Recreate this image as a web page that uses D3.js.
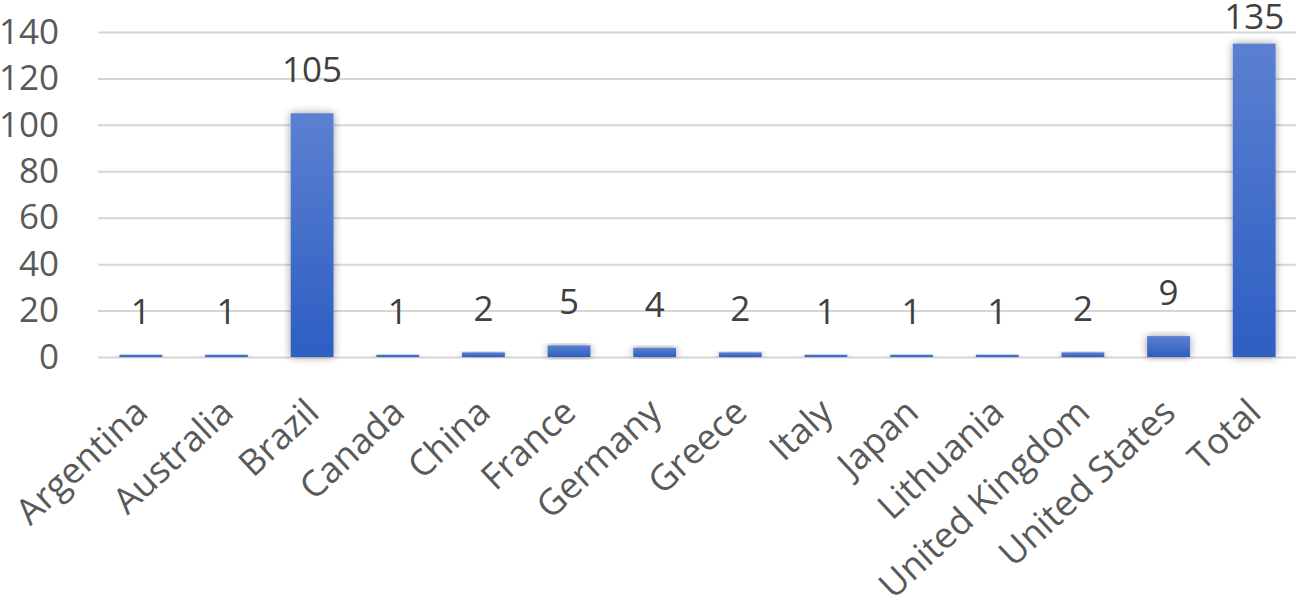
<!DOCTYPE html>
<html>
<head>
<meta charset="utf-8">
<script src="https://cdn.jsdelivr.net/npm/d3@7"></script>
<style>
    html, body { margin: 0; padding: 0; background: #fff; overflow: hidden; }
    svg { display: block; font-family: "Open Sans", "Noto Sans", sans-serif; }
</style>
</head>
<body>
<div id="chart"></div>
<script>
// Counts per country, with the total as the last bar
const countries = ['Argentina', 'Australia', 'Brazil', 'Canada', 'China', 'France', 'Germany',
    'Greece', 'Italy', 'Japan', 'Lithuania', 'United Kingdom', 'United States', 'Total'];
const counts = [1, 1, 105, 1, 2, 5, 4, 2, 1, 1, 1, 2, 9, 135];
const yTicks = [0, 20, 40, 60, 80, 100, 120, 140];

function drawChart() {
    const W = 1296, H = 601;
    const margin = { top: 32, right: -1, bottom: 244, left: 98 };
    const width = W - margin.left - margin.right;
    const height = H - margin.top - margin.bottom;

    const svg = d3.select('#chart').append('svg')
        .attr('width', W)
        .attr('height', H);

    const defs = svg.append('defs');

    const grad = defs.append('linearGradient')
        .attr('id', 'barGrad')
        .attr('x1', 0).attr('y1', 0)
        .attr('x2', 0).attr('y2', 1);
    grad.append('stop').attr('offset', '0%').attr('stop-color', '#5b80d1');
    grad.append('stop').attr('offset', '100%').attr('stop-color', '#2d5ec3');

    const shadow = defs.append('filter')
        .attr('id', 'barShadow')
        .attr('x', '-50%').attr('y', '-20%')
        .attr('width', '200%').attr('height', '140%');
    shadow.append('feDropShadow')
        .attr('dx', 0).attr('dy', 0)
        .attr('stdDeviation', 4)
        .attr('flood-color', '#000')
        .attr('flood-opacity', 0.4);

    const g = svg.append('g')
        .attr('transform', `translate(${margin.left},${margin.top})`);

    // Scales
    const x = d3.scaleBand()
        .domain(countries)
        .range([0, width])
        .paddingInner(0.5)
        .paddingOuter(0.25);

    const y = d3.scaleLinear()
        .domain([0, 140])
        .range([height, 0]);

    // Grid
    const grid = g.append('g')
        .call(d3.axisLeft(y)
            .tickValues(yTicks)
            .tickSize(-width)
            .tickFormat(''));
    grid.select('.domain').remove();
    grid.selectAll('line')
        .attr('stroke', '#d6d6d6')
        .attr('stroke-width', 2);

    // Y axis labels
    const yAxis = g.append('g')
        .call(d3.axisLeft(y)
            .tickValues(yTicks)
            .tickSize(0)
            .tickPadding(39));
    yAxis.select('.domain').remove();
    yAxis.selectAll('text')
        .attr('fill', '#595959')
        .attr('font-size', '35px')
        .attr('font-family', '"Open Sans", sans-serif');

    // Bars
    g.selectAll('.bar')
        .data(counts)
        .enter()
        .append('rect')
        .attr('class', 'bar')
        .attr('x', (d, i) => x(countries[i]))
        .attr('y', d => y(d))
        .attr('width', x.bandwidth())
        .attr('height', d => height - y(d))
        .attr('fill', 'url(#barGrad)')
        .attr('filter', 'url(#barShadow)');

    // Value labels (Excel pushes the tallest one down to stay inside)
    g.selectAll('.value')
        .data(counts)
        .enter()
        .append('text')
        .attr('class', 'value')
        .attr('x', (d, i) => x(countries[i]) + x.bandwidth() / 2)
        .attr('y', d => Math.max(y(d) - 31, -3))
        .attr('text-anchor', 'middle')
        .attr('fill', '#404040')
        .attr('font-size', '35px')
        .text(d => d);

    // X axis with rotated category labels
    const xAxis = g.append('g')
        .attr('transform', `translate(0,${height})`)
        .call(d3.axisBottom(x).tickSize(0).tickPadding(0));
    xAxis.select('.domain').remove();
    xAxis.selectAll('text')
        .attr('fill', '#595959')
        .attr('font-size', '36px')
        .attr('font-family', '"Open Sans", sans-serif')
        .attr('text-anchor', 'end')
        .attr('dy', null)
        .attr('y', null)
        .attr('transform', 'translate(9,58) rotate(-43)');
}

drawChart();
</script>
</body>
</html>
